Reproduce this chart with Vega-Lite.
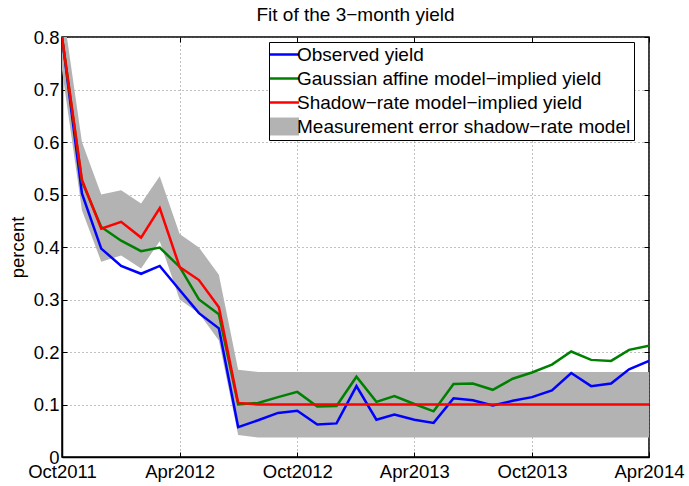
{
  "$schema": "https://vega.github.io/schema/vega-lite/v6.json",
  "width": 587,
  "height": 420,
  "autosize": "none",
  "padding": {"left": 62, "top": 37, "right": 40, "bottom": 29},
  "background": "white",
  "title": {"text": "Fit of the 3−month yield", "fontSize": 19, "font": "Liberation Sans", "fontWeight": "normal", "color": "black", "offset": 3},
  "config": {
    "view": {"stroke": "black", "strokeWidth": 1.5},
    "axis": {
      "labelFont": "Liberation Sans", "titleFont": "Liberation Sans",
      "labelFontSize": 18.5, "titleFontSize": 18.5, "titleFontWeight": "normal",
      "labelColor": "black", "titleColor": "black",
      "domainColor": "black", "domainWidth": 1.5,
      "tickColor": "black", "tickSize": -5, "tickWidth": 1,
      "gridColor": "#666", "gridDash": [1, 3], "gridWidth": 0.8
    }
  },
  "datasets": {
    "lines": [
      {"date": "2011-10-01", "series": "Observed yield", "value": 0.800},
      {"date": "2011-11-01", "series": "Observed yield", "value": 0.502},
      {"date": "2011-12-01", "series": "Observed yield", "value": 0.397},
      {"date": "2012-01-01", "series": "Observed yield", "value": 0.364},
      {"date": "2012-02-01", "series": "Observed yield", "value": 0.349},
      {"date": "2012-03-01", "series": "Observed yield", "value": 0.364},
      {"date": "2012-04-01", "series": "Observed yield", "value": 0.318},
      {"date": "2012-05-01", "series": "Observed yield", "value": 0.274},
      {"date": "2012-06-01", "series": "Observed yield", "value": 0.245},
      {"date": "2012-07-01", "series": "Observed yield", "value": 0.057},
      {"date": "2012-08-01", "series": "Observed yield", "value": 0.070},
      {"date": "2012-09-01", "series": "Observed yield", "value": 0.084},
      {"date": "2012-10-01", "series": "Observed yield", "value": 0.088},
      {"date": "2012-11-01", "series": "Observed yield", "value": 0.062},
      {"date": "2012-12-01", "series": "Observed yield", "value": 0.064},
      {"date": "2013-01-01", "series": "Observed yield", "value": 0.135},
      {"date": "2013-02-01", "series": "Observed yield", "value": 0.071},
      {"date": "2013-03-01", "series": "Observed yield", "value": 0.081},
      {"date": "2013-04-01", "series": "Observed yield", "value": 0.071},
      {"date": "2013-05-01", "series": "Observed yield", "value": 0.065},
      {"date": "2013-06-01", "series": "Observed yield", "value": 0.112},
      {"date": "2013-07-01", "series": "Observed yield", "value": 0.108},
      {"date": "2013-08-01", "series": "Observed yield", "value": 0.098},
      {"date": "2013-09-01", "series": "Observed yield", "value": 0.107},
      {"date": "2013-10-01", "series": "Observed yield", "value": 0.114},
      {"date": "2013-11-01", "series": "Observed yield", "value": 0.127},
      {"date": "2013-12-01", "series": "Observed yield", "value": 0.160},
      {"date": "2014-01-01", "series": "Observed yield", "value": 0.135},
      {"date": "2014-02-01", "series": "Observed yield", "value": 0.140},
      {"date": "2014-03-01", "series": "Observed yield", "value": 0.167},
      {"date": "2014-04-01", "series": "Observed yield", "value": 0.183},
      {"date": "2011-10-01", "series": "Gaussian affine model−implied yield", "value": 0.800},
      {"date": "2011-11-01", "series": "Gaussian affine model−implied yield", "value": 0.525},
      {"date": "2011-12-01", "series": "Gaussian affine model−implied yield", "value": 0.438},
      {"date": "2012-01-01", "series": "Gaussian affine model−implied yield", "value": 0.412},
      {"date": "2012-02-01", "series": "Gaussian affine model−implied yield", "value": 0.392},
      {"date": "2012-03-01", "series": "Gaussian affine model−implied yield", "value": 0.399},
      {"date": "2012-04-01", "series": "Gaussian affine model−implied yield", "value": 0.362},
      {"date": "2012-05-01", "series": "Gaussian affine model−implied yield", "value": 0.300},
      {"date": "2012-06-01", "series": "Gaussian affine model−implied yield", "value": 0.272},
      {"date": "2012-07-01", "series": "Gaussian affine model−implied yield", "value": 0.100},
      {"date": "2012-08-01", "series": "Gaussian affine model−implied yield", "value": 0.103},
      {"date": "2012-09-01", "series": "Gaussian affine model−implied yield", "value": 0.114},
      {"date": "2012-10-01", "series": "Gaussian affine model−implied yield", "value": 0.124},
      {"date": "2012-11-01", "series": "Gaussian affine model−implied yield", "value": 0.096},
      {"date": "2012-12-01", "series": "Gaussian affine model−implied yield", "value": 0.097},
      {"date": "2013-01-01", "series": "Gaussian affine model−implied yield", "value": 0.153},
      {"date": "2013-02-01", "series": "Gaussian affine model−implied yield", "value": 0.105},
      {"date": "2013-03-01", "series": "Gaussian affine model−implied yield", "value": 0.116},
      {"date": "2013-04-01", "series": "Gaussian affine model−implied yield", "value": 0.101},
      {"date": "2013-05-01", "series": "Gaussian affine model−implied yield", "value": 0.087},
      {"date": "2013-06-01", "series": "Gaussian affine model−implied yield", "value": 0.139},
      {"date": "2013-07-01", "series": "Gaussian affine model−implied yield", "value": 0.140},
      {"date": "2013-08-01", "series": "Gaussian affine model−implied yield", "value": 0.128},
      {"date": "2013-09-01", "series": "Gaussian affine model−implied yield", "value": 0.149},
      {"date": "2013-10-01", "series": "Gaussian affine model−implied yield", "value": 0.161},
      {"date": "2013-11-01", "series": "Gaussian affine model−implied yield", "value": 0.176},
      {"date": "2013-12-01", "series": "Gaussian affine model−implied yield", "value": 0.201},
      {"date": "2014-01-01", "series": "Gaussian affine model−implied yield", "value": 0.185},
      {"date": "2014-02-01", "series": "Gaussian affine model−implied yield", "value": 0.183},
      {"date": "2014-03-01", "series": "Gaussian affine model−implied yield", "value": 0.204},
      {"date": "2014-04-01", "series": "Gaussian affine model−implied yield", "value": 0.212},
      {"date": "2011-10-01", "series": "Shadow−rate model−implied yield", "value": 0.800},
      {"date": "2011-11-01", "series": "Shadow−rate model−implied yield", "value": 0.528},
      {"date": "2011-12-01", "series": "Shadow−rate model−implied yield", "value": 0.435},
      {"date": "2012-01-01", "series": "Shadow−rate model−implied yield", "value": 0.448},
      {"date": "2012-02-01", "series": "Shadow−rate model−implied yield", "value": 0.418},
      {"date": "2012-03-01", "series": "Shadow−rate model−implied yield", "value": 0.474},
      {"date": "2012-04-01", "series": "Shadow−rate model−implied yield", "value": 0.362},
      {"date": "2012-05-01", "series": "Shadow−rate model−implied yield", "value": 0.337},
      {"date": "2012-06-01", "series": "Shadow−rate model−implied yield", "value": 0.285},
      {"date": "2012-07-01", "series": "Shadow−rate model−implied yield", "value": 0.103},
      {"date": "2012-08-01", "series": "Shadow−rate model−implied yield", "value": 0.100},
      {"date": "2012-09-01", "series": "Shadow−rate model−implied yield", "value": 0.100},
      {"date": "2012-10-01", "series": "Shadow−rate model−implied yield", "value": 0.100},
      {"date": "2012-11-01", "series": "Shadow−rate model−implied yield", "value": 0.100},
      {"date": "2012-12-01", "series": "Shadow−rate model−implied yield", "value": 0.100},
      {"date": "2013-01-01", "series": "Shadow−rate model−implied yield", "value": 0.100},
      {"date": "2013-02-01", "series": "Shadow−rate model−implied yield", "value": 0.100},
      {"date": "2013-03-01", "series": "Shadow−rate model−implied yield", "value": 0.100},
      {"date": "2013-04-01", "series": "Shadow−rate model−implied yield", "value": 0.100},
      {"date": "2013-05-01", "series": "Shadow−rate model−implied yield", "value": 0.100},
      {"date": "2013-06-01", "series": "Shadow−rate model−implied yield", "value": 0.100},
      {"date": "2013-07-01", "series": "Shadow−rate model−implied yield", "value": 0.100},
      {"date": "2013-08-01", "series": "Shadow−rate model−implied yield", "value": 0.100},
      {"date": "2013-09-01", "series": "Shadow−rate model−implied yield", "value": 0.100},
      {"date": "2013-10-01", "series": "Shadow−rate model−implied yield", "value": 0.100},
      {"date": "2013-11-01", "series": "Shadow−rate model−implied yield", "value": 0.100},
      {"date": "2013-12-01", "series": "Shadow−rate model−implied yield", "value": 0.100},
      {"date": "2014-01-01", "series": "Shadow−rate model−implied yield", "value": 0.100},
      {"date": "2014-02-01", "series": "Shadow−rate model−implied yield", "value": 0.100},
      {"date": "2014-03-01", "series": "Shadow−rate model−implied yield", "value": 0.100},
      {"date": "2014-04-01", "series": "Shadow−rate model−implied yield", "value": 0.100}
    ],
    "band": [
      {"date": "2011-10-01", "series": "Measurement error shadow−rate model", "lo": 0.737, "hi": 0.865},
      {"date": "2011-11-01", "series": "Measurement error shadow−rate model", "lo": 0.470, "hi": 0.600},
      {"date": "2011-12-01", "series": "Measurement error shadow−rate model", "lo": 0.372, "hi": 0.500},
      {"date": "2012-01-01", "series": "Measurement error shadow−rate model", "lo": 0.384, "hi": 0.508},
      {"date": "2012-02-01", "series": "Measurement error shadow−rate model", "lo": 0.359, "hi": 0.483},
      {"date": "2012-03-01", "series": "Measurement error shadow−rate model", "lo": 0.411, "hi": 0.535},
      {"date": "2012-04-01", "series": "Measurement error shadow−rate model", "lo": 0.300, "hi": 0.425},
      {"date": "2012-05-01", "series": "Measurement error shadow−rate model", "lo": 0.274, "hi": 0.399},
      {"date": "2012-06-01", "series": "Measurement error shadow−rate model", "lo": 0.222, "hi": 0.347},
      {"date": "2012-07-01", "series": "Measurement error shadow−rate model", "lo": 0.042, "hi": 0.166},
      {"date": "2012-08-01", "series": "Measurement error shadow−rate model", "lo": 0.037, "hi": 0.162},
      {"date": "2012-09-01", "series": "Measurement error shadow−rate model", "lo": 0.037, "hi": 0.162},
      {"date": "2012-10-01", "series": "Measurement error shadow−rate model", "lo": 0.037, "hi": 0.162},
      {"date": "2012-11-01", "series": "Measurement error shadow−rate model", "lo": 0.037, "hi": 0.162},
      {"date": "2012-12-01", "series": "Measurement error shadow−rate model", "lo": 0.037, "hi": 0.162},
      {"date": "2013-01-01", "series": "Measurement error shadow−rate model", "lo": 0.037, "hi": 0.162},
      {"date": "2013-02-01", "series": "Measurement error shadow−rate model", "lo": 0.037, "hi": 0.162},
      {"date": "2013-03-01", "series": "Measurement error shadow−rate model", "lo": 0.037, "hi": 0.162},
      {"date": "2013-04-01", "series": "Measurement error shadow−rate model", "lo": 0.037, "hi": 0.162},
      {"date": "2013-05-01", "series": "Measurement error shadow−rate model", "lo": 0.037, "hi": 0.162},
      {"date": "2013-06-01", "series": "Measurement error shadow−rate model", "lo": 0.037, "hi": 0.162},
      {"date": "2013-07-01", "series": "Measurement error shadow−rate model", "lo": 0.037, "hi": 0.162},
      {"date": "2013-08-01", "series": "Measurement error shadow−rate model", "lo": 0.037, "hi": 0.162},
      {"date": "2013-09-01", "series": "Measurement error shadow−rate model", "lo": 0.037, "hi": 0.162},
      {"date": "2013-10-01", "series": "Measurement error shadow−rate model", "lo": 0.037, "hi": 0.162},
      {"date": "2013-11-01", "series": "Measurement error shadow−rate model", "lo": 0.037, "hi": 0.162},
      {"date": "2013-12-01", "series": "Measurement error shadow−rate model", "lo": 0.037, "hi": 0.162},
      {"date": "2014-01-01", "series": "Measurement error shadow−rate model", "lo": 0.037, "hi": 0.162},
      {"date": "2014-02-01", "series": "Measurement error shadow−rate model", "lo": 0.037, "hi": 0.162},
      {"date": "2014-03-01", "series": "Measurement error shadow−rate model", "lo": 0.037, "hi": 0.162},
      {"date": "2014-04-01", "series": "Measurement error shadow−rate model", "lo": 0.037, "hi": 0.162}
    ]
  },
  "resolve": {"axis": {"x": "independent", "y": "independent"}},
  "layer": [
    {
      "data": {"name": "band"},
      "mark": {"type": "area", "clip": true, "opacity": 1},
      "encoding": {
        "x": {"field": "date", "type": "temporal",
          "scale": {"type": "utc", "domain": [{"year": 2011, "month": 10, "date": 1, "utc": true}, {"year": 2014, "month": 4, "date": 1, "utc": true}]},
          "axis": {"orient": "top", "labels": false, "grid": false, "domain": false, "title": null,
            "values": [
              {"year": 2011, "month": 10, "date": 1, "utc": true},
              {"year": 2012, "month": 4, "date": 1, "utc": true},
              {"year": 2012, "month": 10, "date": 1, "utc": true},
              {"year": 2013, "month": 4, "date": 1, "utc": true},
              {"year": 2013, "month": 10, "date": 1, "utc": true},
              {"year": 2014, "month": 4, "date": 1, "utc": true}
            ]}},
        "y": {"field": "lo", "type": "quantitative",
          "scale": {"domain": [0, 0.8], "nice": false, "zero": false},
          "axis": {"orient": "right", "labels": false, "grid": false, "domain": false, "title": null,
            "values": [0, 0.1, 0.2, 0.3, 0.4, 0.5, 0.6, 0.7, 0.8]}},
        "y2": {"field": "hi"},
        "color": {"field": "series", "type": "nominal"}
      }
    },
    {
      "data": {"name": "lines"},
      "mark": {"type": "line", "clip": true, "strokeWidth": 2.5},
      "encoding": {
        "x": {"field": "date", "type": "temporal",
          "axis": {"title": null, "format": "%b%Y", "labelPadding": 10, "labelFlush": false, "grid": true,
            "values": [
              {"year": 2011, "month": 10, "date": 1, "utc": true},
              {"year": 2012, "month": 4, "date": 1, "utc": true},
              {"year": 2012, "month": 10, "date": 1, "utc": true},
              {"year": 2013, "month": 4, "date": 1, "utc": true},
              {"year": 2013, "month": 10, "date": 1, "utc": true},
              {"year": 2014, "month": 4, "date": 1, "utc": true}
            ]}},
        "y": {"field": "value", "type": "quantitative",
          "axis": {"title": "percent", "format": "~g", "labelPadding": 8, "titlePadding": 6, "grid": true,
            "values": [0, 0.1, 0.2, 0.3, 0.4, 0.5, 0.6, 0.7, 0.8]}},
        "color": {"field": "series", "type": "nominal",
          "scale": {
            "domain": ["Observed yield", "Gaussian affine model−implied yield", "Shadow−rate model−implied yield", "Measurement error shadow−rate model"],
            "range": ["#0000ff", "#008000", "#ff0000", "#b3b3b3"]
          },
          "legend": {
            "title": null, "orient": "none", "legendX": 207, "legendY": 5,
            "strokeColor": "black", "fillColor": "white", "padding": 3, "symbolOffset": 3, "cornerRadius": 0,
            "labelFont": "Liberation Sans", "labelFontSize": 19, "labelColor": "black", "labelLimit": 500,
            "symbolType": "stroke", "symbolSize": 841, "symbolStrokeWidth": 2.5, "rowPadding": 4, "labelOffset": 3,
            "encode": {
              "symbols": {
                "update": {
                  "size": {"value": 841},
                  "shape": {"signal": "datum.index === 3 ? 'M-1,-0.62H1V0.62H-1Z' : 'stroke'"},
                  "fill": {"signal": "datum.index === 3 ? '#b3b3b3' : 'transparent'"},
                  "strokeWidth": {"signal": "datum.index === 3 ? 0 : 2.5"}
                }
              }
            }
          }
        }
      }
    }
  ]
}
